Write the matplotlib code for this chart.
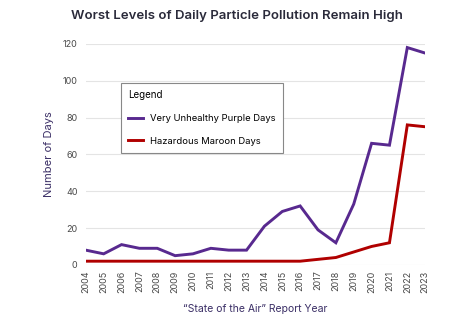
import matplotlib.pyplot as plt

plt.rcParams['font.family'] = ['Inter', 'DejaVu Sans']

years = list(range(2004, 2024))
purple_days = [8, 6, 11, 9, 9, 5, 6, 9, 8, 8, 21, 29, 32, 19, 12, 33, 66, 65, 118, 115]
maroon_days = [2, 2, 2, 2, 2, 2, 2, 2, 2, 2, 2, 2, 2, 3, 4, 7, 10, 12, 76, 75]

fig = plt.figure(figsize=(4.74, 3.25), dpi=100)
ax = fig.add_axes([0.181, 0.185, 0.716, 0.68])

ax.plot(years, purple_days, color='#58298f', lw=2.1, label='Very Unhealthy Purple Days',
        solid_joinstyle='miter')
ax.plot(years, maroon_days, color='#b00000', lw=2.1, label='Hazardous Maroon Days',
        solid_joinstyle='miter')

ax.set_xlim(2004, 2023)
ax.set_ylim(0, 120)
ax.set_yticks(range(0, 121, 20))
ax.set_xticks(years)
ax.set_xticklabels([str(y) for y in years], rotation=90)
ax.grid(axis='y', color='#e4e4e4', lw=0.8)
ax.set_axisbelow(True)
for s in ax.spines.values():
    s.set_visible(False)
ax.tick_params(length=0, labelsize=6.5, colors='#4a4a4a', pad=6)
ax.tick_params(axis='x', pad=4)

ax.set_ylabel('Number of Days', fontsize=8, color='#3b2f66', labelpad=6)
ax.set_xlabel('\u201cState of the Air\u201d Report Year', fontsize=7.5, color='#3b2f66', labelpad=8)
fig.text(0.5, 0.952, 'Worst Levels of Daily Particle Pollution Remain High', ha='center',
         va='center', fontsize=9.5, color='#2a2a3a', fontweight='semibold')

leg = ax.legend(title='Legend', loc='upper left', bbox_to_anchor=(0.245, 0.76),
                bbox_transform=fig.transFigure, fancybox=False, edgecolor='#888888',
                fontsize=6.8, title_fontsize=7, labelspacing=1.45, handlelength=1.5,
                borderpad=0.8, framealpha=1)
leg._legend_box.align = 'left'
leg.get_frame().set_linewidth(0.8)

plt.savefig('out.png', dpi=100)
